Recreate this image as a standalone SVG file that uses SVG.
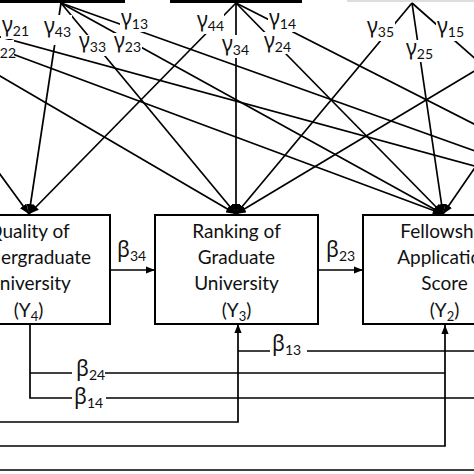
<svg xmlns="http://www.w3.org/2000/svg" width="474" height="474" viewBox="0 0 474 474">
<style>
.ln{stroke:#000;stroke-width:1.7;fill:none}
.box{fill:#fff;stroke:#000;stroke-width:2}
.t{font-family:Lato,"Noto Sans","DejaVu Sans",sans-serif;font-size:19px;fill:#111;text-anchor:middle}
.g{font-family:"Noto Sans","DejaVu Sans",sans-serif;font-size:21px;fill:#111}
.s{font-family:Lato,"Noto Sans",sans-serif;font-size:14px}
.w{fill:#fff}
</style>
<defs>
<marker id="ah" viewBox="0 0 10 8" refX="10" refY="4" markerWidth="10" markerHeight="8" markerUnits="userSpaceOnUse" orient="auto">
<path d="M0,0 L10,4 L0,8 z" fill="#000"/>
</marker>
<marker id="ab" viewBox="0 0 10 8" refX="10" refY="4" markerWidth="9" markerHeight="8" markerUnits="userSpaceOnUse" orient="auto">
<path d="M0,0 L10,4 L0,8 z" fill="#000"/>
</marker>
</defs>
<rect x="0" y="0" width="474" height="474" fill="#fff"/>
<g id="sources">
<rect x="0" y="0" width="125" height="3" fill="#000"/>
<rect x="170" y="0" width="132" height="3" fill="#000"/>
<rect x="347" y="0" width="127" height="2" fill="#ddd"/>
</g>
<g id="connectors">
<g id="gamma-lines" class="ln" marker-end="url(#ah)">
<line x1="-125" y1="3" x2="29" y2="214"/>
<line x1="-125" y1="3" x2="236" y2="214"/>
<line x1="-125" y1="3" x2="443" y2="214"/>
<line x1="-125" y1="3" x2="651" y2="214"/>
<line x1="61" y1="3" x2="29" y2="214"/>
<line x1="61" y1="3" x2="236" y2="214"/>
<line x1="61" y1="3" x2="443" y2="214"/>
<line x1="61" y1="3" x2="651" y2="214"/>
<line x1="236" y1="3" x2="29" y2="214"/>
<line x1="236" y1="3" x2="236" y2="214"/>
<line x1="236" y1="3" x2="443" y2="214"/>
<line x1="236" y1="3" x2="651" y2="214"/>
<line x1="412" y1="3" x2="236" y2="214"/>
<line x1="412" y1="3" x2="443" y2="214"/>
<line x1="412" y1="3" x2="651" y2="214"/>
<line x1="588" y1="3" x2="236" y2="214"/>
<line x1="588" y1="3" x2="443" y2="214"/>
</g>
<g id="beta-lines" class="ln">
<line x1="110" y1="270" x2="155" y2="270" marker-end="url(#ab)"/>
<line x1="318" y1="270" x2="363" y2="270" marker-end="url(#ab)"/>
<path d="M30,324 V398 H474"/>
<path d="M30,373 H445"/>
<path d="M0,446 H445 V325" marker-end="url(#ab)"/>
<path d="M0,422 H238 V324" marker-end="url(#ab)"/>
<path d="M474,351 H238"/>
<path d="M0,470 H474"/>
</g>
</g>
<g id="label-bg" class="w">
<rect x="1" y="17" width="28" height="22"/>
<rect x="-12" y="40" width="26" height="22"/>
<rect x="43" y="15" width="29" height="30"/>
<rect x="78" y="35" width="29" height="21"/>
<rect x="113" y="33" width="29" height="21"/>
<rect x="120" y="12" width="29" height="20"/>
<rect x="196" y="14" width="28" height="20"/>
<rect x="221" y="35" width="29" height="23"/>
<rect x="263" y="32" width="29" height="22"/>
<rect x="268" y="10" width="27" height="22"/>
<rect x="366" y="19" width="29" height="22"/>
<rect x="405" y="40" width="30" height="22"/>
<rect x="436" y="19" width="29" height="22"/>
<rect x="72" y="360" width="33" height="24"/>
<rect x="72" y="386" width="34" height="24"/>
<rect x="270" y="338" width="37" height="20"/>
</g>
<g id="gamma-labels" class="g">
<text x="2" y="32">γ<tspan class="s" dy="4">21</tspan></text>
<text x="-11" y="54">γ<tspan class="s" dy="4">22</tspan></text>
<text x="44" y="33">γ<tspan class="s" dy="4">43</tspan></text>
<text x="79" y="48">γ<tspan class="s" dy="4">33</tspan></text>
<text x="114" y="48">γ<tspan class="s" dy="4">23</tspan></text>
<text x="121" y="25">γ<tspan class="s" dy="4">13</tspan></text>
<text x="197" y="27">γ<tspan class="s" dy="4">44</tspan></text>
<text x="222" y="51">γ<tspan class="s" dy="4">34</tspan></text>
<text x="264" y="48">γ<tspan class="s" dy="4">24</tspan></text>
<text x="269" y="25">γ<tspan class="s" dy="4">14</tspan></text>
<text x="367" y="33">γ<tspan class="s" dy="4">35</tspan></text>
<text x="406" y="55">γ<tspan class="s" dy="4">25</tspan></text>
<text x="437" y="33">γ<tspan class="s" dy="4">15</tspan></text>
</g>
<g id="beta-labels" class="g">
<text x="117" y="257">β<tspan class="s" dy="4">34</tspan></text>
<text x="326" y="257">β<tspan class="s" dy="4">23</tspan></text>
<text x="76" y="376">β<tspan class="s" dy="4">24</tspan></text>
<text x="74" y="404">β<tspan class="s" dy="4">14</tspan></text>
<text x="272" y="351">β<tspan class="s" dy="4">13</tspan></text>
</g>
<g id="Y4">
<rect class="box" x="-53" y="215" width="163" height="109"/>
<text class="t" x="28.5" y="238">Quality of</text>
<text class="t" x="28.5" y="264">Undergraduate</text>
<text class="t" x="28.5" y="290">University</text>
<text class="t" x="28.5" y="317">(Y<tspan font-size="13" dy="4">4</tspan><tspan dy="-4">)</tspan></text>
</g>
<g id="Y3">
<rect class="box" x="155" y="215" width="163" height="109"/>
<text class="t" x="236.5" y="238">Ranking of</text>
<text class="t" x="236.5" y="264">Graduate</text>
<text class="t" x="236.5" y="290">University</text>
<text class="t" x="236.5" y="317">(Y<tspan font-size="13" dy="4">3</tspan><tspan dy="-4">)</tspan></text>
</g>
<g id="Y2">
<rect class="box" x="363" y="215" width="163" height="109"/>
<text class="t" x="444.5" y="238">Fellowship</text>
<text class="t" x="444.5" y="264">Application</text>
<text class="t" x="444.5" y="290">Score</text>
<text class="t" x="444.5" y="317">(Y<tspan font-size="13" dy="4">2</tspan><tspan dy="-4">)</tspan></text>
</g>
</svg>
